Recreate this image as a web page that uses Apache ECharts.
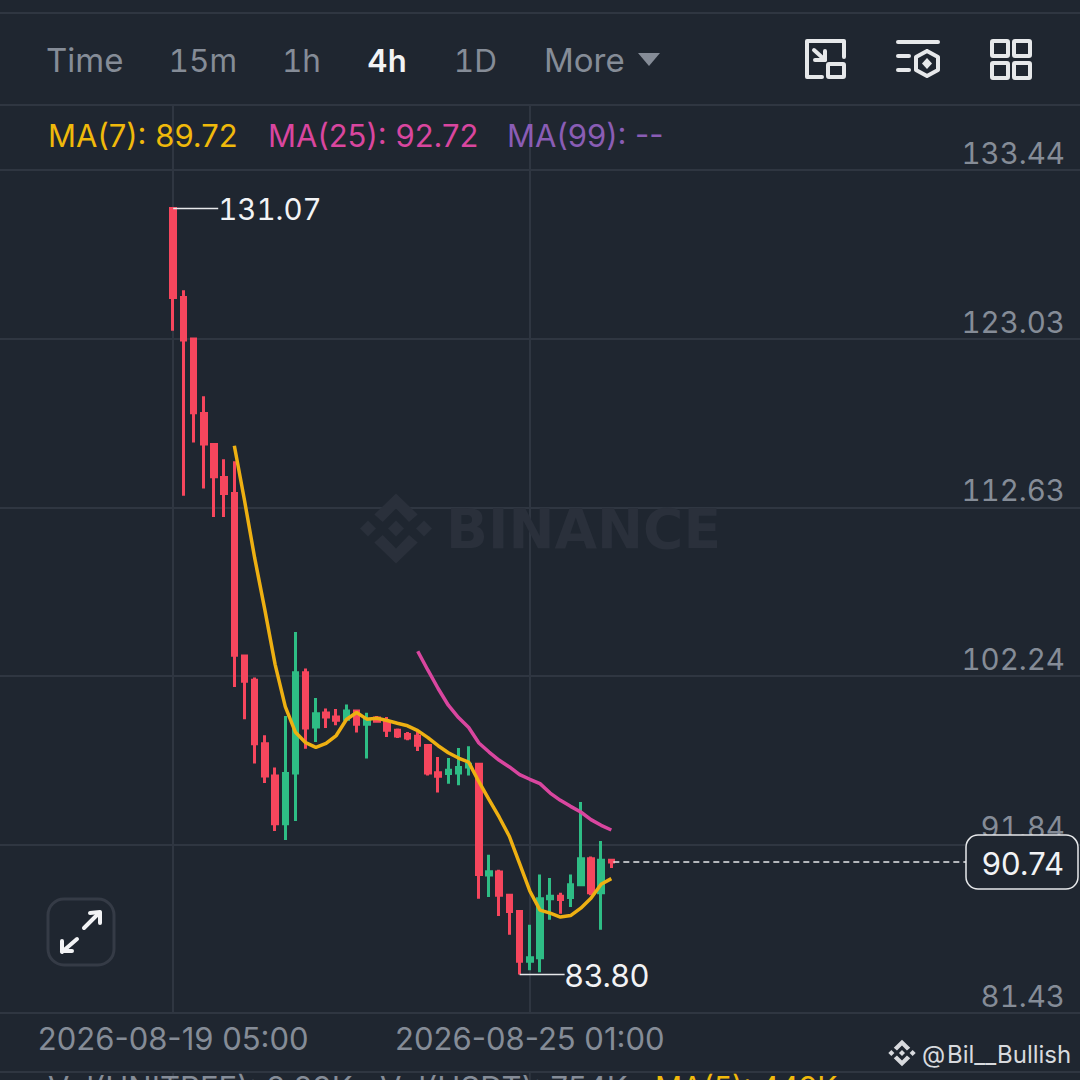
<!DOCTYPE html>
<html><head><meta charset="utf-8">
<style>html,body{margin:0;padding:0;background:#1f2630}#c{width:1080px;height:1080px}
svg text[text-anchor="end"]{font-feature-settings:"tnum" 1 !important;font-variant-numeric:tabular-nums !important}</style>
<script src="https://cdn.jsdelivr.net/npm/echarts@6/dist/echarts.min.js"></script>
</head><body><div id="c"></div>
<script>
const opens  = [131.07,125.58,123.01,118.42,116.51,114.47,113.48,103.46,101.96,98.05,96.05,93.11,96.24,102.43,99.08,99.94,99.69,99.55,100.06,99.24,99.63,99.38,98.87,98.61,98.50,97.93,96.26,96.20,96.24,96.61,96.77,89.94,90.13,88.69,87.70,84.63,84.84,88.48,88.64,88.55,89.35,90.95,88.85,90.85];
const closes = [125.58,122.95,118.46,116.53,114.51,113.48,103.50,101.90,98.05,96.05,93.11,96.20,102.43,99.01,99.90,99.69,99.49,100.06,99.24,99.55,99.43,98.87,98.52,98.40,97.95,96.24,96.03,96.40,96.57,96.77,89.97,90.15,88.69,87.70,84.63,84.84,88.48,88.64,88.44,89.35,90.95,88.85,90.85,90.74];
const lows   = [123.52,113.34,116.63,113.79,112.04,112.04,101.55,99.55,96.82,95.62,92.66,92.11,93.27,97.74,98.15,99.01,99.18,99.52,98.73,97.13,99.35,98.46,98.40,98.26,97.60,96.09,95.03,95.58,95.48,96.09,88.48,88.58,87.41,86.26,83.80,84.06,83.95,87.19,87.56,87.97,89.30,88.69,86.57,90.37];
const highs  = [131.07,126.03,123.09,119.49,116.57,115.60,115.48,103.50,102.13,98.56,96.57,99.76,104.94,102.68,100.87,100.21,100.19,100.46,100.11,99.96,99.76,99.69,98.98,98.77,98.77,97.95,97.22,97.16,97.78,97.89,96.82,91.20,90.27,88.69,87.70,86.88,89.97,89.76,88.85,89.97,94.45,91.09,92.04,90.91];
const ma7    = [116.43,113.05,109.49,106.29,102.94,100.33,98.75,98.11,97.82,98.06,98.55,99.54,99.97,99.56,99.62,99.48,99.31,99.15,98.85,98.42,97.92,97.49,97.16,96.91,95.70,94.59,93.51,92.32,90.64,88.96,87.78,87.59,87.35,87.44,87.90,88.51,89.37,89.72];
const ma25   = [103.75,102.58,101.45,100.42,99.66,99.04,98.09,97.53,97.02,96.61,96.14,95.85,95.58,95.00,94.55,94.18,93.83,93.36,93.01,92.72];
const priceTicks = [81.43,91.84,102.24,112.63,123.03,133.44];
const timeLabels = ['2026-08-19 05:00','2026-08-25 01:00'];
const timeLabelCandles = [0,35];
const extremeLabels = ['131.07','83.80','90.74'];
const extremeCandles = [0,34,43];
const extremeValues = [131.07,83.80,90.74];
const menuItems = ['Time','15m','1h','4h','1D','More'];
const legendTexts = ['MA(7): 89.72','MA(25): 92.72','MA(99): --'];
const volTexts = ['Vol(UNITREE): 8.29K','Vol(USDT): 754K','MA(5): 449K'];

const BG='#1f2630', LINE='#2f3641', GREY='#858c97', UP='#2ebd85', DOWN='#f6465d';
const FONT='Inter, "Noto Sans", sans-serif';
const pad=17, totalSlots=107, ma7Start=6, ma25Start=24;
const cats=new Array(totalSlots).fill('');
timeLabelCandles.forEach((c,i)=>{cats[c+pad]=timeLabels[i];});
const tickIdx=timeLabelCandles.map(c=>c+pad);
const candleData=opens.map((o,i)=>[i+pad,o,closes[i],lows[i],highs[i]]);
const ma7Data=ma7.map((v,i)=>[i+ma7Start+pad,v]);
const ma25Data=ma25.map((v,i)=>[i+ma25Start+pad,v]);

function txt(t,x,y,size,fill,o){return Object.assign({type:'text',silent:true,style:{text:t,x:x,y:y,fill:fill,font:(o&&o.weight||400)+' '+size+'px '+FONT,textVerticalAlign:'middle',textAlign:(o&&o.align)||'left'}},{z:5});}
function hl(y,x1,x2,w,c){return {type:'line',silent:true,shape:{x1:x1===undefined?0:x1,y1:y,x2:x2===undefined?1080:x2,y2:y},style:{stroke:c||LINE,lineWidth:w||2}};}
function seg(x1,y1,x2,y2,w,c){return {type:'line',silent:true,z:5,shape:{x1,y1,x2,y2},style:{stroke:c||'#e6e8ea',lineWidth:w||4,lineCap:'round',lineJoin:'round'}};}
function box(x,y,w,h,r,lw,c,fill){return {type:'rect',silent:true,z:5,shape:{x,y,width:w,height:h,r:r},style:{stroke:c||'#e6e8ea',lineWidth:lw||4,fill:fill||'none'}};}
function poly(pts,c,extra){return {type:'polyline',silent:true,z:5,shape:{points:pts},style:Object.assign({stroke:c||'#e6e8ea',lineWidth:4,fill:'none',lineCap:'round',lineJoin:'round'},extra||{})};}
function logo(cx,cy,s,fill){
  const P=pts=>({type:'polygon',silent:true,z:1,shape:{points:pts.map(p=>[cx+p[0]*s,cy+p[1]*s])},style:{fill:fill}});
  const d=(x,y,r)=>P([[x,y-r],[x+r,y],[x,y+r],[x-r,y]]);
  const top=[[0,-35],[21.7,-14],[13,-6.6],[0,-20],[-13.3,-6.6],[-21.7,-14]];
  return [d(0,0,8),d(-28,0,8),d(28,0,8),P(top),P(top.map(p=>[p[0],-p[1]]))];
}
const menuPlace=[[46,'left',33],[237,'right',31.5],[321,'right',31.5],[367,'left',31],[497,'right',31.5],[544,'left',33]];
const graphics=[
  hl(13),hl(105),hl(1013),hl(1072),
  {type:'line',silent:true,shape:{x1:173.2,y1:1072,x2:173.2,y2:1080},style:{stroke:LINE,lineWidth:2}},
  {type:'line',silent:true,shape:{x1:529.8,y1:1072,x2:529.8,y2:1080},style:{stroke:LINE,lineWidth:2}},
  ...logo(396,528.5,1,'#2a303b'),
  {type:'text',silent:true,z:1,style:{text:'BINANCE',x:446,y:529,fill:'#2a303b',font:'700 55px "DejaVu Sans", '+FONT,textVerticalAlign:'middle'}},
  ...menuItems.map((t,i)=>txt(t,menuPlace[i][0],60,menuPlace[i][2],t==='4h'?'#f2f3f5':GREY,{weight:t==='4h'?600:400,align:menuPlace[i][1]})),
  {type:'polygon',silent:true,z:5,shape:{points:[[638,53],[660,53],[649,66]]},style:{fill:GREY}},
  txt(legendTexts[0],48,135,31,'#f0b90b'),
  txt(legendTexts[1],268,135,31,'#d9469f'),
  txt(legendTexts[2],507,135,31,'#8a5db5'),
  txt(volTexts[0],48,1087,31,GREY),
  txt(volTexts[1],380,1087,31,GREY),
  txt(volTexts[2],655,1087,30,'#f0b90b'),
  // toolbar icons
  poly([[822,77],[807,77],[807,41],[844,41],[844,57]]),
  box(828,64,16,13,1,4),
  poly([[814,50],[825,60]]),poly([[825,51],[825,60],[815,60]]),
  seg(898,42,938,42),seg(898,56,909,56),seg(898,70,909,70),
  poly([[927,51],[938,57],[938,70],[927,76],[916,70],[916,57],[927,51]]),
  {type:'polygon',silent:true,z:5,shape:{points:[[927,58],[932,63.5],[927,69],[922,63.5]]},style:{fill:'#e6e8ea'}},
  box(992,41,16,15,1,4),box(1014,41,16,15,1,4),box(992,63,16,15,1,4),box(1014,63,16,15,1,4),
  // expand button
  box(48,899,66,66,16,3,'#353b46',BG),
  poly([[84,928],[99,913]],'#f2f3f5'),poly([[90,913],[100,912],[100,923]],'#f2f3f5'),
  poly([[77,939],[62,952]],'#f2f3f5'),poly([[62,941],[62,951],[72,951]],'#f2f3f5'),
  // credit
  ...logo(902,1053,0.38,'#d8dade'),
  txt('@',922,1054,24,'#d8dade'),
  txt('Bil__Bullish',947,1054,24,'#d8dade')
];

function annotate(params,api){
  const p=api.coord([api.value(0),api.value(1)]);
  const label=extremeLabels[params.dataIndex];
  const i=params.dataIndex;
  if(i===2){
    const w=api.getWidth();
    return {type:'group',children:[
      {type:'line',shape:{x1:p[0]+2,y1:p[1],x2:966,y2:p[1]},style:{stroke:'#e6e8ea',lineWidth:1.5,lineDash:[6,4]}},
      {type:'rect',shape:{x:966,y:p[1]-27,width:w-968,height:54,r:12},style:{fill:BG,stroke:'#e6e8ea',lineWidth:1.5}},
      {type:'text',style:{text:label,x:1023,y:p[1]+1,fill:'#f2f3f5',font:'400 31px '+FONT,textAlign:'center',textVerticalAlign:'middle'}}
    ]};
  }
  const text=i===0
    ? {text:label,x:p[0]+148.5,y:p[1]+1,fill:'#f2f3f5',font:'400 29.5px '+FONT,textAlign:'right',textVerticalAlign:'middle'}
    : {text:label,x:p[0]+45,y:p[1]+1,fill:'#f2f3f5',font:'400 31px '+FONT,textVerticalAlign:'middle'};
  return {type:'group',children:[
    {type:'line',shape:{x1:p[0],y1:p[1],x2:p[0]+45,y2:p[1]},style:{stroke:'#e6e8ea',lineWidth:1.5}},
    {type:'text',style:text}
  ]};
}
const annData=extremeCandles.map((c,i)=>[c+pad,extremeValues[i]]);
const chart=echarts.init(document.getElementById('c'),null,{renderer:'svg',width:1080,height:1080});
const pxPerUnit=168.5/10.402;
chart.setOption({
  backgroundColor:BG,animation:false,
  grid:{left:0,right:0,top:106,bottom:67,containLabel:false},
  xAxis:{type:'category',data:cats,boundaryGap:false,
    axisLine:{show:false},axisTick:{show:false},
    axisLabel:{interval:(i)=>tickIdx.includes(i),color:GREY,fontSize:31,fontFamily:FONT,margin:10,hideOverlap:false},
    splitLine:{show:true,interval:(i)=>tickIdx.includes(i),lineStyle:{color:LINE,width:2}}},
  yAxis:{type:'value',position:'right',min:81.43,max:133.44+64/pxPerUnit,scale:true,
    axisLine:{show:false},
    axisTick:{show:false,customValues:priceTicks},
    axisLabel:{inside:true,customValues:priceTicks,margin:15,color:GREY,fontSize:29.5,fontFamily:FONT,verticalAlign:'bottom',align:'right',padding:[0,0,2,0],formatter:v=>v.toFixed(2)},
    splitLine:{show:true,lineStyle:{color:LINE,width:2}}},
  graphic:{elements:graphics},
  series:[
    {type:'candlestick',data:candleData,encode:{x:0,y:[1,2,3,4]},barWidth:5,
      itemStyle:{color:UP,color0:DOWN,borderColor:UP,borderColor0:DOWN,borderWidth:3},silent:true},
    {type:'line',data:ma7Data,showSymbol:false,lineStyle:{color:'#eeb012',width:3.5},silent:true,z:3},
    {type:'line',data:ma25Data,showSymbol:false,lineStyle:{color:'#d9469f',width:3.5},silent:true,z:3},
    {type:'custom',data:annData,renderItem:annotate,silent:true,z:6,clip:false,encode:{x:0,y:1}}
  ]
});
</script></body></html>
